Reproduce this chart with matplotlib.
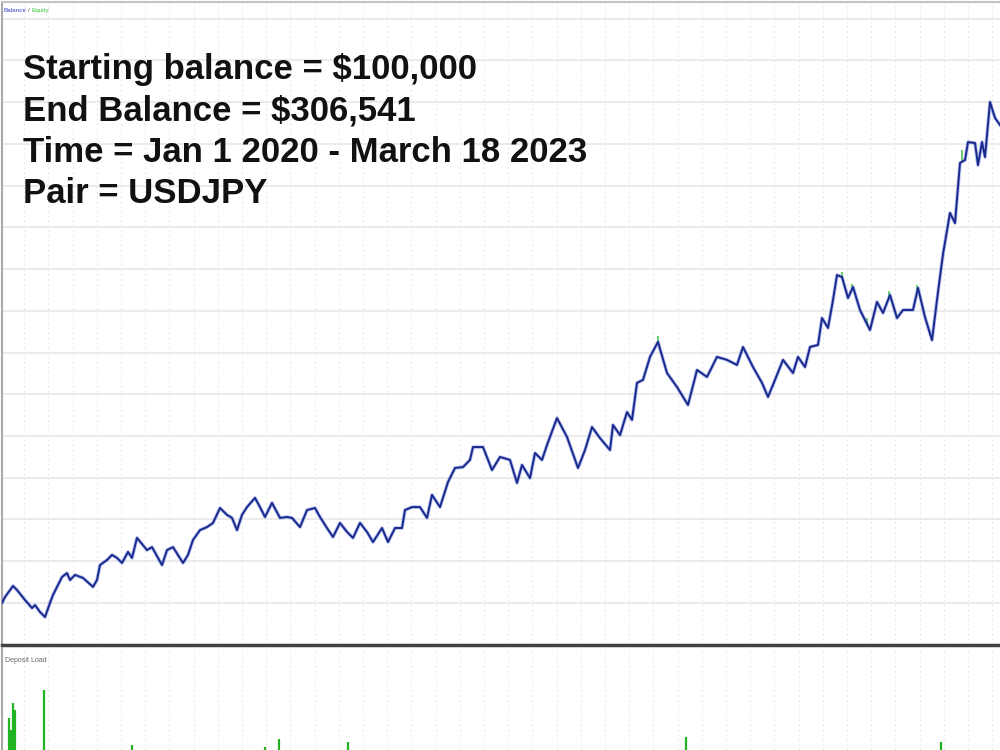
import numpy as np
import matplotlib
matplotlib.use("Agg")
import matplotlib.pyplot as plt
from matplotlib import font_manager

# ---------------- data ----------------
trades = [0, 2, 5, 13, 17, 25, 32, 35, 40, 45, 50, 53, 62, 67, 70, 75, 83, 93, 97,
          100, 107, 112, 117, 122, 128, 132, 137, 147, 152, 162, 167, 173, 183, 188,
          193, 200, 207, 213, 220, 227, 232, 237, 242, 247, 255, 260, 265, 272, 280,
          287, 292, 300, 307, 315, 320, 327, 333, 340, 347, 353, 360, 367, 373, 382,
          388, 395, 402, 405, 412, 420, 427, 432, 440, 448, 455, 463, 470, 473, 483,
          492, 500, 510, 517, 522, 530, 535, 542, 547, 557, 567, 578, 585, 592, 600,
          610, 613, 620, 627, 632, 637, 643, 650, 658, 667, 677, 688, 697, 707, 717,
          727, 737, 743, 753, 762, 768, 775, 783, 793, 798, 805, 810, 818, 822, 828,
          833, 837, 842, 848, 853, 860, 870, 877, 883, 890, 897, 903, 913, 918, 925,
          932, 938, 943, 950, 955, 960, 965, 968, 975, 978, 982, 985, 990, 995, 1000]

balance = [100000, 98700, 101300, 106100, 104350, 100000, 96500, 97800, 94800, 92600,
           98700, 102200, 110000, 111700, 108700, 110900, 109600, 105700, 108700,
           115200, 117400, 119600, 118300, 116100, 120900, 118300, 127000, 121700,
           123000, 115200, 121700, 123000, 116100, 119600, 126100, 130400, 131700,
           133500, 140000, 137000, 135700, 130400, 137000, 140400, 144400, 140400,
           136100, 142200, 135700, 136100, 135700, 131700, 139100, 140000, 136100,
           131300, 127400, 133500, 129600, 127000, 133500, 129600, 125200, 131300,
           125200, 131300, 131300, 139100, 140400, 140400, 135700, 145700, 140400,
           151300, 157400, 157800, 160900, 166500, 166500, 156500, 162200, 160900,
           150900, 158700, 153000, 163900, 160900, 167400, 179100, 170900, 157400,
           165200, 175200, 170400, 165200, 176100, 171700, 181700, 178300, 194400,
           195700, 205700, 212200, 198700, 192600, 184800, 200000, 197000, 205700,
           204400, 202200, 210000, 201300, 194400, 188300, 195700, 204400, 198700,
           205700, 201300, 210000, 210900, 222600, 218300, 230400, 241300, 240400,
           231300, 236100, 226100, 217400, 229600, 224800, 232600, 222600, 226100,
           226100, 235700, 223000, 213000, 233900, 250400, 268300, 263900, 290000,
           291300, 299100, 298700, 289100, 299100, 292600, 316500, 309600, 306541]

equity_peak_trades = [658, 842, 852, 867, 889, 917, 962]
equity_peak_values = [215000, 242500, 237500, 222500, 234500, 237000, 295500]

load_trades = [9, 11, 13, 15, 44, 132, 265, 279, 348, 686, 941]
load_values = [16, 10, 23.5, 20, 30, 2.5, 1.5, 5.5, 4, 6.5, 4]

info_lines = ["Starting balance = $100,000",
              "End Balance = $306,541",
              "Time = Jan 1 2020 - March 18 2023",
              "Pair = USDJPY"]

# ---------------- fonts ----------------
def pick(names):
    for n in names:
        try:
            font_manager.findfont(n, fallback_to_default=False)
            return n
        except Exception:
            pass
    return "DejaVu Sans"

big_font = pick(["Liberation Sans", "Arial"])
small_font = pick(["Liberation Sans"])

# ---------------- figure ----------------
W, H = 1000, 750
fig = plt.figure(figsize=(10, 7.5), dpi=100)
fig.patch.set_facecolor("white")

def fx(px):
    return px / W

def fy(py):
    return 1 - py / H

# main panel: pixel rows 2..645
ax = fig.add_axes([fx(2), fy(645), fx(998), (645 - 2) / H])
ax.set_xlim(2, 1000)
per_px = 434.8
y_top = 100000 + (600 - 2) * per_px
y_bot = 100000 + (600 - 645) * per_px
ax.set_ylim(y_bot, y_top)

grid_y = 100000 + (600 - 603) * per_px + np.arange(15) * 41.75 * per_px
ax.set_yticks(grid_y)
ax.set_xticks(np.arange(24.2, 1000, 24.2))
ax.tick_params(left=False, bottom=False, labelleft=False, labelbottom=False)
ax.grid(axis="y", color="#ebebeb", lw=1.5, ls="-")
ax.grid(axis="x", color="#e6e6e6", lw=0.7, ls=(0, (2, 3)))
ax.set_axisbelow(True)

ax.spines["right"].set_visible(False)
ax.spines["left"].set_color("#a8a8a8")
ax.spines["left"].set_linewidth(1.5)
ax.spines["top"].set_color("#c4c4c4")
ax.spines["top"].set_linewidth(1.5)
ax.spines["bottom"].set_color("#404040")
ax.spines["bottom"].set_linewidth(2.5)

# equity excursions above balance
base = np.interp(equity_peak_trades, trades, balance)
ax.vlines(equity_peak_trades, base, equity_peak_values, color="#5ccc5c", lw=1.3,
          zorder=2)
# balance line with a soft halo
ax.plot(trades, balance, color="#7080e0", lw=2.6, alpha=0.5, zorder=3)
ax.plot(trades, balance, color="#1a2a8c", lw=1.4, zorder=4)

# tiny legend label
fig.text(fx(4), fy(12), "Balance", color="#3a3ad0", fontsize=4.6, family=small_font)
fig.text(fx(28.5), fy(12), "/", color="#555555", fontsize=4.6, family=small_font)
fig.text(fx(32), fy(12), "Equity", color="#33c033", fontsize=4.6, family=small_font)

# big info text
baselines = [79, 120, 162, 203]
for line, b in zip(info_lines, baselines):
    fig.text(fx(23), fy(b), line, fontsize=25, fontweight="bold", family=big_font,
             color="#111111", va="baseline", ha="left")

# deposit load panel
ax2 = fig.add_axes([fx(2), 0, fx(998), (750 - 648) / H])
ax2.set_xlim(2, 1000)
ax2.set_ylim(0, 51)
ax2.set_xticks(np.arange(24.2, 1000, 24.2))
ax2.tick_params(left=False, bottom=False, labelleft=False, labelbottom=False)
ax2.grid(axis="x", color="#e6e6e6", lw=0.7, ls=(0, (2, 3)))
ax2.set_axisbelow(True)
for side in ["right", "top", "bottom"]:
    ax2.spines[side].set_visible(False)
ax2.spines["left"].set_color("#a8a8a8")
ax2.spines["left"].set_linewidth(1.5)
ax2.vlines(load_trades, 0, load_values, color="#22b322", lw=1.6)

fig.text(fx(5), fy(662), "Deposit Load", color="#666666", fontsize=5,
         family=small_font)

fig.savefig("out.png", dpi=100, facecolor="white")
